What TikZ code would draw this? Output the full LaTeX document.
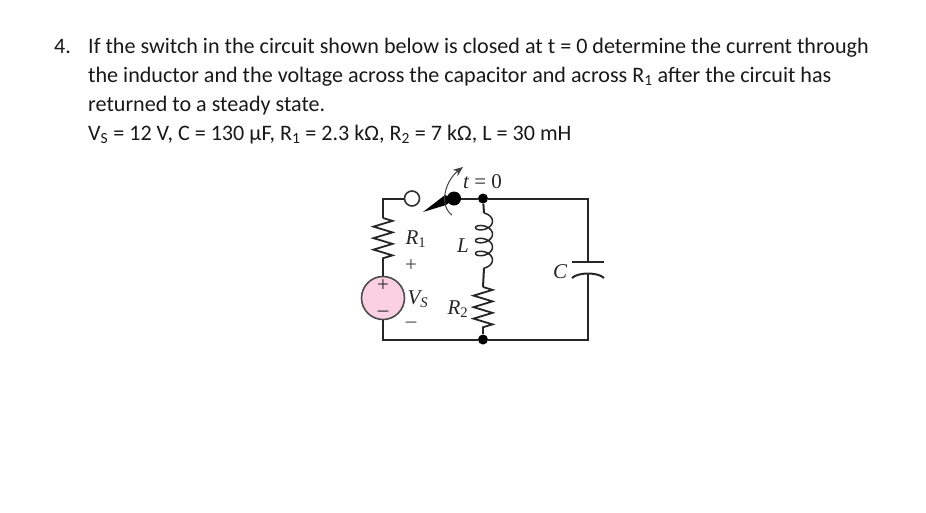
\documentclass[tikz,border=0pt]{standalone}
\usepackage{fontspec}
\setmainfont{Carlito}
\newfontfamily\partfont{Liberation Serif}
\usetikzlibrary{decorations.pathmorphing,arrows.meta}
\definecolor{sourcepink}{RGB}{250,208,226}
\tikzset{
  wire/.style={line width=2pt,color=black!85},
  resistor/.style={wire,line width=1.8pt,decorate,decoration={zigzag,amplitude=9.5pt,segment length=11.5pt}},
  inductor/.style={wire,line width=1.5pt},
  textline/.style={anchor=base west,inner sep=0pt,font=\fontsize{22.1}{26}\selectfont,text=black!90},
  partlabel/.style={inner sep=0pt,font=\partfont\itshape\fontsize{21}{22}\selectfont,text=black!85},
  signlabel/.style={inner sep=0pt,font=\partfont\fontsize{21}{22}\selectfont,text=black!75},
  junction/.style={circle,fill=black,inner sep=0pt,minimum size=10pt}
}
\newcommand{\lowsub}[1]{\textsubscript{\upshape #1}}
\begin{document}
\begin{tikzpicture}[x=1pt,y=-1pt]
\useasboundingbox (0,0) rectangle (926,512);

\node[textline] (num) at (54,53) {4.};
\node[textline] (line1) at (88,53) {If the switch in the circuit shown below is closed at t = 0 determine the current through};
\node[textline] (line2) at (88,82) {the inductor and the voltage across the capacitor and across R\textsubscript{1} after the circuit has};
\node[textline] (line3) at (88,111) {returned to a steady state.};
\node[textline] (line4) at (88,140) {V\textsubscript{S} = 12 V, C = 130 µF, R\textsubscript{1} = 2.3 kΩ, R\textsubscript{2} = 7 kΩ, L = 30 mH};

\coordinate (lefttop) at (383,198.5);
\coordinate (leftbot) at (383,339.5);
\coordinate (righttop) at (588,198.5);
\coordinate (rightbot) at (588,339.5);
\coordinate (r1top) at (383,218);
\coordinate (r1bot) at (383,260);
\coordinate (ltop) at (484,213);
\coordinate (lbot) at (484,268);
\coordinate (r2top) at (483,287);
\coordinate (r2bot) at (483,329);
\coordinate (captop) at (588,262);
\coordinate (capbot) at (588,273);
\coordinate (armend) at (423,212);
\coordinate (swingstart) at (452,215);
\coordinate (swingend) at (463,167);

\node[circle,draw=black!80,line width=1.6pt,fill=white,inner sep=0pt,minimum size=15pt] (open) at (412,198.5) {};
\node[circle,fill=black,inner sep=0pt,minimum size=14pt] (pivot) at (454,198.5) {};
\node[junction] (jtop) at (483,198.5) {};
\node[junction] (jbot) at (483,339.5) {};
\node[circle,draw=black!70,line width=1.6pt,fill=sourcepink,inner sep=0pt,minimum size=43pt] (vs) at (383,298) {};
\node[signlabel,text=black!85] (vsplus) at (383,286) {+};
\node[signlabel,text=black!85] (vsminus) at (383,314) {–};

\draw[wire] (open) -| (lefttop) -- (r1top);
\draw[resistor] (r1top) -- (r1bot);
\draw[wire] (r1bot) -- (vs);
\draw[wire] (vs) -- (leftbot) -- (jbot);
\draw[wire] (pivot) -- (jtop) -- (righttop) -- (captop);
\draw[wire] (jbot) -- (rightbot) -- (capbot);
\draw[wire] (jtop) -- (ltop);
\draw[inductor] plot[domain=0:1260,samples=120,smooth,variable=\t] ({484+8.5*sin(\t)},{218+12.9*\t/360-5*cos(\t)});
\draw[wire] (lbot) -- (r2top);
\draw[resistor] (r2top) -- (r2bot);
\draw[wire] (r2bot) -- (jbot);

% capacitor plates
\draw[wire] (572,262) -- (604,262);
\draw[wire] (572,278) .. controls (578,272) and (598,272) .. (604,278);

% switch arm and swing arrow
\fill[black] (armend) -- (445,195) -- (454,199) -- (446,205) -- cycle;
\draw[line width=1pt,color=black!75,-{Stealth[length=10pt,width=8pt]}] (swingstart) .. controls (438,205) and (446,180) .. (swingend);

\node[partlabel] (r1label) at (416,239) {R\lowsub{1}};
\node[partlabel] (llabel) at (463,246) {L};
\node[signlabel] (plus) at (411,266) {+};
\node[partlabel] (vslabel) at (418,299) {V\textsubscript{S}};
\node[signlabel] (minus) at (411,325) {–};
\node[partlabel] (r2label) at (458,309) {R\lowsub{2}};
\node[partlabel] (clabel) at (560,272) {C};
\node[partlabel,anchor=west] (tlabel) at (463,182) {t {\upshape = 0}};
\end{tikzpicture}
\end{document}
